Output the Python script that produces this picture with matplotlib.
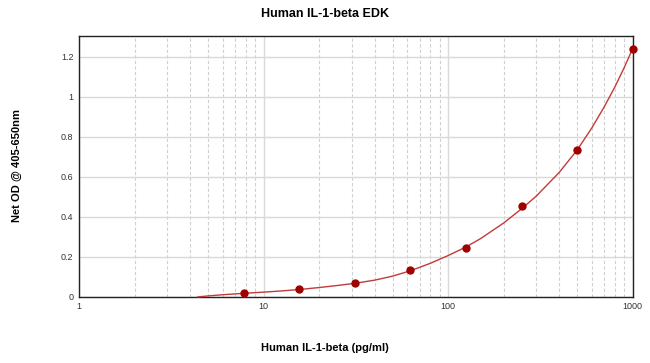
import matplotlib
matplotlib.use('Agg')
import matplotlib.pyplot as plt
from matplotlib.ticker import FixedLocator, FuncFormatter, NullFormatter

plt.rcParams['font.family'] = ['Liberation Sans', 'DejaVu Sans']

# standard points
conc = [7.8, 15.6, 31.25, 62.5, 125, 250, 500, 1000]
od = [0.02, 0.038, 0.072, 0.135, 0.245, 0.455, 0.737, 1.24]

# fitted curve
curve_x = [4.4, 5, 6, 7.8, 10, 12.5, 15.6, 20, 25, 31.25, 40, 50, 62.5, 80,
           100, 125, 150, 200, 250, 300, 400, 500, 600, 700, 800, 900, 1000]
curve_y = [0.0, 0.005, 0.011, 0.018, 0.024, 0.030, 0.037, 0.047, 0.057, 0.068,
           0.084, 0.104, 0.131, 0.168, 0.207, 0.25, 0.292, 0.37, 0.441, 0.504,
           0.623, 0.735, 0.845, 0.95, 1.05, 1.148, 1.243]

yticks = [0, 0.2, 0.4, 0.6, 0.8, 1, 1.2]
xticks = [1, 10, 100, 1000]

fig = plt.figure(figsize=(6.5, 3.63), dpi=100)
ax = fig.add_axes([0.1215, 0.182, 0.852, 0.719])

ax.set_xscale('log')
ax.set_xlim(1, 1000)
ax.set_ylim(0, 1.305)

ax.plot(curve_x, curve_y, color='#c23a3a', lw=1, zorder=3, clip_on=False,
        solid_joinstyle='round')
ax.plot(conc, od, 'o', color='#a00000', ms=5, zorder=4, clip_on=False)

ax.xaxis.set_major_locator(FixedLocator(xticks))
ax.xaxis.set_major_formatter(FuncFormatter(lambda v, p: '%g' % v))
ax.xaxis.set_minor_formatter(NullFormatter())
ax.set_yticks(yticks)
ax.yaxis.set_major_formatter(FuncFormatter(lambda v, p: '%g' % v))

ax.grid(True, which='major', axis='both', color='#d9d9d9', lw=1, ls='-')
ax.grid(True, which='minor', axis='x', color='#d0d0d0', lw=0.8, ls=(0, (3, 2)))
ax.set_axisbelow(True)

ax.tick_params(which='both', length=0, labelsize=6.5, colors='#333333', pad=4)
for s in ax.spines.values():
    s.set_color('#222222')
    s.set_linewidth(1)

fig.text(0.5, 0.962, 'Human IL-1-beta EDK', ha='center', va='center',
         fontsize=9, fontweight='bold')
fig.text(0.5, 0.041, 'Human IL-1-beta (pg/ml)', ha='center', va='center',
         fontsize=8, fontweight='bold')
fig.text(0.026, 0.545, 'Net OD @ 405-650nm', ha='center', va='center',
         rotation=90, fontsize=8, fontweight='bold')

fig.savefig('out.png', dpi=100)
